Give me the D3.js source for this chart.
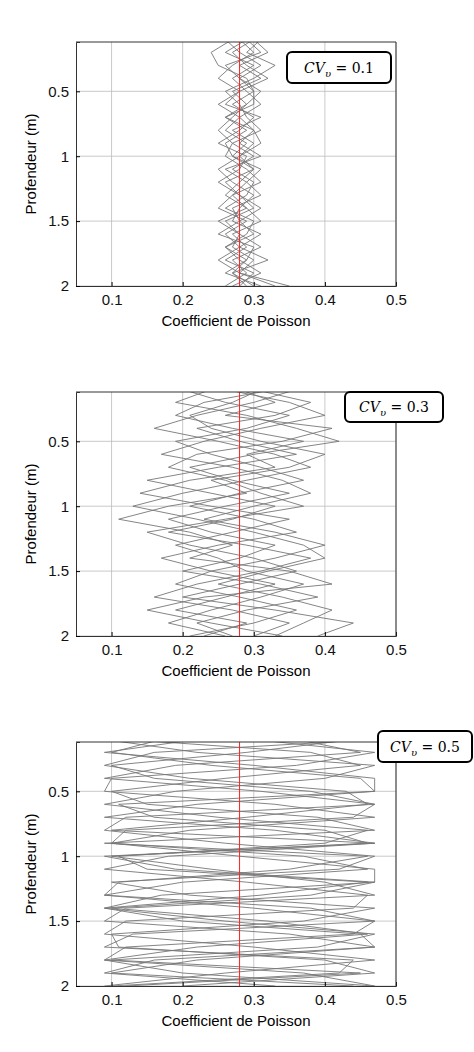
<!DOCTYPE html>
<html><head><meta charset="utf-8">
<script src="https://cdn.jsdelivr.net/npm/d3@7"></script>
<style>body{margin:0;background:#fff;font-family:"Liberation Sans",Arial,sans-serif}</style>
</head><body>
<div id="chart"></div>
<script>
const depths = [0.1,0.2,0.3,0.4,0.5,0.6,0.7,0.8,0.9,1.0,1.1,1.2,1.3,1.4,1.5,1.6,1.7,1.8,1.9,2.0];
const xTicks = [0.1,0.2,0.3,0.4,0.5];
const yTicks = [0.5,1,1.5,2];
const meanValue = 0.28;
const cvLabels = ["0.1","0.3","0.5"];

// realisations, CV = 0.1
const series1 = [
  [0.29,0.26,0.30,0.27,0.29,0.31,0.28,0.26,0.29,0.27,0.30,0.28,0.26,0.29,0.31,0.27,0.29,0.26,0.30,0.28],
  [0.30,0.32,0.28,0.31,0.27,0.29,0.26,0.30,0.28,0.31,0.26,0.29,0.31,0.27,0.28,0.30,0.26,0.29,0.27,0.30],
  [0.27,0.24,0.25,0.29,0.30,0.27,0.30,0.28,0.25,0.29,0.28,0.25,0.28,0.30,0.26,0.28,0.31,0.27,0.29,0.26],
  [0.31,0.29,0.33,0.30,0.26,0.28,0.29,0.31,0.27,0.26,0.29,0.31,0.27,0.25,0.29,0.26,0.28,0.32,0.27,0.29],
  [0.28,0.30,0.27,0.25,0.28,0.26,0.31,0.27,0.30,0.28,0.25,0.27,0.30,0.28,0.27,0.31,0.28,0.25,0.28,0.33],
  [0.26,0.28,0.31,0.28,0.31,0.29,0.27,0.25,0.27,0.30,0.27,0.30,0.29,0.26,0.30,0.29,0.26,0.28,0.31,0.27],
  [0.30,0.27,0.29,0.32,0.28,0.25,0.28,0.30,0.31,0.28,0.30,0.26,0.28,0.31,0.28,0.25,0.30,0.29,0.26,0.31],
  [0.29,0.31,0.26,0.28,0.30,0.30,0.26,0.29,0.26,0.27,0.31,0.29,0.27,0.29,0.25,0.28,0.27,0.30,0.28,0.35]
];
// realisations, CV = 0.3
const series2 = [
  [0.30,0.38,0.33,0.22,0.28,0.36,0.25,0.15,0.24,0.33,0.27,0.18,0.29,0.38,0.31,0.22,0.16,0.27,0.35,0.30],
  [0.24,0.19,0.29,0.36,0.42,0.30,0.21,0.27,0.35,0.26,0.18,0.24,0.33,0.28,0.20,0.31,0.39,0.29,0.22,0.27],
  [0.36,0.30,0.22,0.16,0.25,0.33,0.38,0.29,0.20,0.13,0.22,0.30,0.37,0.40,0.32,0.25,0.34,0.41,0.37,0.33],
  [0.20,0.26,0.35,0.29,0.19,0.24,0.31,0.37,0.28,0.21,0.30,0.36,0.25,0.17,0.24,0.33,0.26,0.19,0.29,0.23],
  [0.28,0.33,0.26,0.41,0.34,0.22,0.18,0.26,0.31,0.37,0.26,0.15,0.21,0.30,0.36,0.28,0.20,0.33,0.44,0.39],
  [0.33,0.23,0.19,0.27,0.37,0.29,0.33,0.21,0.14,0.24,0.35,0.27,0.19,0.25,0.29,0.37,0.31,0.24,0.18,0.26],
  [0.26,0.35,0.40,0.31,0.23,0.17,0.27,0.34,0.38,0.30,0.23,0.33,0.40,0.33,0.24,0.19,0.28,0.36,0.30,0.21],
  [0.31,0.27,0.21,0.24,0.31,0.40,0.35,0.24,0.29,0.18,0.11,0.21,0.27,0.21,0.35,0.41,0.23,0.15,0.24,0.34]
];
// realisations, CV = 0.5
const series3 = [
  [0.47,0.16,0.09,0.21,0.43,0.46,0.29,0.10,0.47,0.10,0.24,0.40,0.47,0.12,0.09,0.35,0.47,0.22,0.10,0.44],
  [0.12,0.38,0.45,0.26,0.10,0.15,0.39,0.47,0.09,0.46,0.35,0.11,0.09,0.30,0.47,0.44,0.12,0.09,0.37,0.47],
  [0.36,0.45,0.19,0.09,0.31,0.47,0.44,0.12,0.10,0.28,0.47,0.47,0.17,0.09,0.26,0.47,0.39,0.10,0.45,0.12],
  [0.22,0.09,0.30,0.47,0.47,0.22,0.09,0.33,0.47,0.18,0.09,0.29,0.46,0.44,0.12,0.09,0.30,0.47,0.26,0.09],
  [0.44,0.29,0.10,0.16,0.38,0.47,0.12,0.09,0.26,0.47,0.42,0.10,0.21,0.47,0.37,0.10,0.11,0.40,0.47,0.20],
  [0.09,0.22,0.47,0.40,0.19,0.09,0.25,0.46,0.40,0.11,0.15,0.46,0.31,0.09,0.20,0.45,0.47,0.16,0.09,0.33],
  [0.30,0.47,0.36,0.10,0.09,0.33,0.47,0.21,0.10,0.37,0.46,0.20,0.09,0.38,0.47,0.13,0.09,0.44,0.42,0.10],
  [0.17,0.10,0.24,0.45,0.47,0.11,0.16,0.40,0.46,0.09,0.19,0.47,0.38,0.10,0.32,0.46,0.22,0.09,0.20,0.47]
];
const allSeries = [series1, series2, series3];

const svg = d3.select("#chart").append("svg").attr("width", 474).attr("height", 1052);

const plotLeft = 76, plotRight = 396, plotH = 244;
const panelTops = [42, 392, 742];
const legendBoxes = [{x:287,y:52,w:104,h:31},{x:345,y:392,w:98,h:30},{x:378,y:731,w:94,h:31}];

const x = d3.scaleLinear().domain([0.05, 0.5]).range([plotLeft, plotRight]);

allSeries.forEach((series, i) => {
  const top = panelTops[i];
  const y = d3.scaleLinear().domain([0.12, 2]).range([top, top + plotH]);
  const g = svg.append("g");
  const clipId = "clip" + i;
  g.append("clipPath").attr("id", clipId).append("rect")
    .attr("x", plotLeft).attr("y", top).attr("width", plotRight - plotLeft).attr("height", plotH);

  // grille
  g.append("g").selectAll("line").data(xTicks).join("line")
    .attr("x1", d => x(d)).attr("x2", d => x(d)).attr("y1", top).attr("y2", top + plotH)
    .attr("stroke", "#bbb").attr("stroke-width", 0.8);
  g.append("g").selectAll("line").data(yTicks).join("line")
    .attr("x1", plotLeft).attr("x2", plotRight).attr("y1", d => y(d)).attr("y2", d => y(d))
    .attr("stroke", "#bbb").attr("stroke-width", 0.8);

  const line = d3.line().x(d => x(d[1])).y(d => y(d[0]));
  g.append("g").attr("clip-path", `url(#${clipId})`).selectAll("path").data(series).join("path")
    .attr("d", s => line(depths.map((dp, k) => [dp, s[k]])))
    .attr("fill", "none").attr("stroke", "#777").attr("stroke-width", 0.9);

  g.append("line").attr("x1", x(meanValue)).attr("x2", x(meanValue))
    .attr("y1", top).attr("y2", top + plotH).attr("stroke", "#ff2020").attr("stroke-width", 1);

  // axes
  g.append("g").attr("transform", `translate(0,${top + plotH})`)
    .call(d3.axisBottom(x).tickValues(xTicks).tickSize(-4).tickPadding(8).tickFormat(d3.format("")))
    .call(a => a.select(".domain").attr("stroke", "#333"))
    .call(a => a.selectAll("text").attr("font-size", 15).attr("fill", "#111").attr("font-family", "Liberation Sans, Arial"));
  g.append("g").attr("transform", `translate(${plotLeft},0)`)
    .call(d3.axisLeft(y).tickValues(yTicks).tickSize(-4).tickPadding(7).tickFormat(d3.format("")))
    .call(a => a.select(".domain").attr("stroke", "#333"))
    .call(a => a.selectAll("text").attr("font-size", 15).attr("fill", "#111").attr("font-family", "Liberation Sans, Arial"));
  g.append("line").attr("x1", plotLeft).attr("x2", plotRight).attr("y1", top).attr("y2", top).attr("stroke", "#333");
  g.append("line").attr("x1", plotRight).attr("x2", plotRight).attr("y1", top).attr("y2", top + plotH).attr("stroke", "#333");

  g.append("text").attr("x", (plotLeft + plotRight) / 2).attr("y", top + plotH + 40)
    .attr("text-anchor", "middle").attr("font-size", 15).text("Coefficient de Poisson");
  g.append("text").attr("transform", `translate(36,${top + plotH / 2}) rotate(-90)`)
    .attr("text-anchor", "middle").attr("font-size", 15).text("Profendeur (m)");

  // légende
  const b = legendBoxes[i];
  g.append("rect").attr("x", b.x).attr("y", b.y).attr("width", b.w).attr("height", b.h)
    .attr("rx", 5).attr("fill", "#fff").attr("stroke", "#000").attr("stroke-width", 2);
  const t = g.append("text").attr("x", b.x + b.w / 2).attr("y", b.y + b.h / 2 + 5)
    .attr("text-anchor", "middle").attr("font-family", "DejaVu Serif, serif").attr("font-size", 14);
  t.append("tspan").attr("font-style", "italic").text("CV");
  t.append("tspan").attr("font-style", "italic").attr("font-size", 10).attr("dy", 4).text("υ");
  t.append("tspan").attr("dy", -4).text(" = " + cvLabels[i]);
});
</script>
</body></html>
